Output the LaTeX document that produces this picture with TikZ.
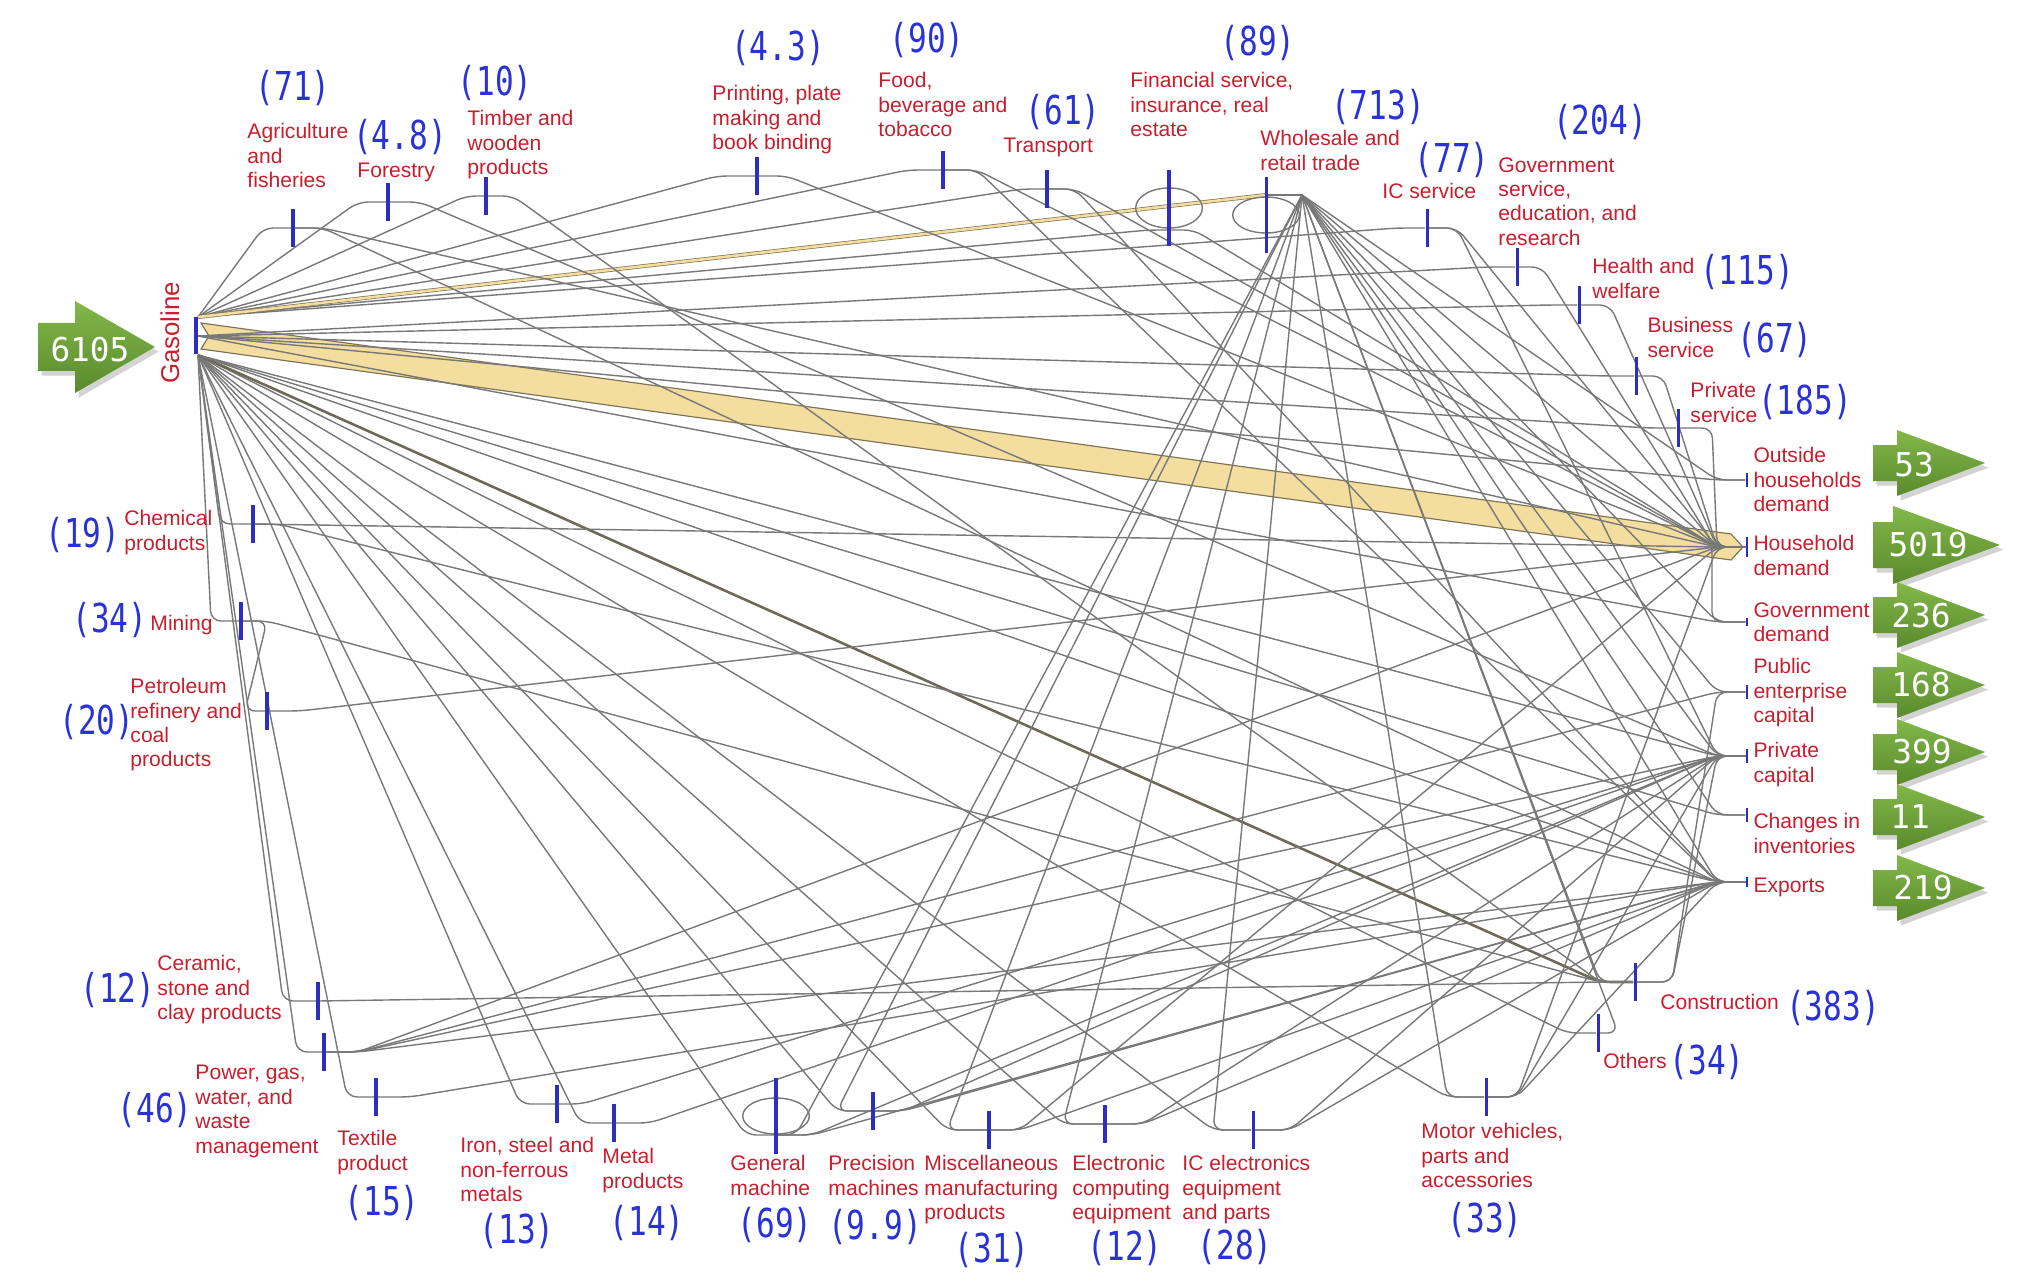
\documentclass[tikz,border=0pt]{standalone}
\usepackage{fontspec}
\setmainfont{Liberation Sans}
\newfontfamily\valfont[FakeStretch=0.78]{DejaVu Sans Mono}
\newfontfamily\arrfont{DejaVu Sans Mono}
\usetikzlibrary{calc, backgrounds, shadows}

\definecolor{labelred}{RGB}{200,30,45}
\definecolor{valblue}{RGB}{40,50,215}
\definecolor{tickblue}{RGB}{45,45,190}
\definecolor{flowgray}{RGB}{120,120,120}
\definecolor{heavygray}{RGB}{110,105,85}
\definecolor{bandfill}{RGB}{243,222,160}
\definecolor{bandedge}{RGB}{125,115,85}
\definecolor{greentop}{RGB}{130,184,74}
\definecolor{greenbot}{RGB}{90,138,44}

\begin{document}
\begin{tikzpicture}[x=0.015cm, y=-0.015cm,
    tick/.style={fill=tickblue, inner sep=0pt, minimum width=1.3pt, minimum height=0.57cm},
    longtick/.style={tick, minimum height=1.15cm},
    dtick/.style={tick, minimum width=1pt, minimum height=0.2cm},
    lbl/.style={text=labelred, font=\fontsize{9}{10.4}\selectfont, align=left, inner sep=0pt, anchor=north west},
    val/.style={text=valblue, font=\valfont\fontsize{17}{19}\selectfont, inner sep=0pt},
    arrtxt/.style={text=white, font=\arrfont\fontsize{14}{16}\selectfont, inner sep=0pt},
    greenarrow/.style={top color=greentop, bottom color=greenbot, drop shadow={shadow xshift=1.5pt, shadow yshift=-2pt, opacity=0.35}},
    flowline/.style={draw=flowgray, line width=0.6pt, rounded corners=0.15cm},
    heavyline/.style={flowline, draw=heavygray, line width=1.1pt},
    tanline/.style={draw=bandedge, double=bandfill, double distance=1.1pt, line width=0.3pt},
    band/.style={fill=bandfill, draw=bandedge, line width=0.5pt}]
        \useasboundingbox (0,0) rectangle (2042,1277);

        % Sector ticks
        \node[tick, minimum height=0.555cm] (gas) at (196,336) {};
        \node[tick] (agr) at (293,228) {};
        \node[tick] (fore) at (388,202) {};
        \node[tick] (timb) at (486,196) {};
        \node[tick] (prin) at (757,176) {};
        \node[tick] (food) at (943,170) {};
        \node[tick] (tran) at (1047,189) {};
        \node[longtick] (fin) at (1169,208) {};
        \node[longtick] (whol) at (1266,215) {};
        \node[tick] (ics) at (1427,228) {};
        \node[tick] (gov) at (1517,267) {};
        \node[tick] (hea) at (1579,305) {};
        \node[tick] (bus) at (1636,376) {};
        \node[tick] (prs) at (1678,428) {};
        \node[tick] (chem) at (253,524) {};
        \node[tick] (mine) at (241,621) {};
        \node[tick] (petr) at (267,711) {};
        \node[tick] (cer) at (318,1001) {};
        \node[tick] (pow) at (324,1052) {};
        \node[tick] (tex) at (376,1097) {};
        \node[tick] (iron) at (557,1104) {};
        \node[tick] (met) at (614,1123) {};
        \node[longtick] (gen) at (776,1116) {};
        \node[tick] (prec) at (873,1111) {};
        \node[tick] (misc) at (989,1130) {};
        \node[tick] (elec) at (1105,1124) {};
        \node[tick] (ice) at (1253,1130) {};
        \node[tick] (mot) at (1486,1097) {};
        \node[tick] (oth) at (1598,1033) {};
        \node[tick] (con) at (1635,982) {};

        % Demand ticks
        \node[dtick] (od) at (1747,480) {};
        \node[dtick, minimum height=0.3cm] (hd) at (1747,547) {};
        \node[dtick, minimum height=0.12cm] (gd) at (1747,622) {};
        \node[dtick] (pe) at (1747,692) {};
        \node[dtick] (pc) at (1747,756) {};
        \node[dtick] (chg) at (1747,815) {};
        \node[dtick, minimum height=0.15cm] (exp) at (1747,882) {};

        % Labels
        \node[lbl, anchor=center, rotate=90, font=\fontsize{11}{13}\selectfont] (gaslbl) at (170,333) {Gasoline};
        \node[lbl] (agrlbl) at (247,123) {Agriculture\\and\\fisheries};
        \node[lbl] (forelbl) at (357,163) {Forestry};
        \node[lbl] (timblbl) at (467,110) {Timber and\\wooden\\products};
        \node[lbl] (prinlbl) at (712,85) {Printing, plate\\making and\\book binding};
        \node[lbl] (foodlbl) at (878,72) {Food,\\beverage and\\tobacco};
        \node[lbl] (tranlbl) at (1003,138) {Transport};
        \node[lbl] (finlbl) at (1130,72) {Financial service,\\insurance, real\\estate};
        \node[lbl] (whollbl) at (1260,130) {Wholesale and\\retail trade};
        \node[lbl] (icslbl) at (1382,183) {IC service};
        \node[lbl] (govlbl) at (1498,157) {Government\\service,\\education, and\\research};
        \node[lbl] (healbl) at (1592,258) {Health and\\welfare};
        \node[lbl] (buslbl) at (1647,317) {Business\\service};
        \node[lbl] (prslbl) at (1690,382) {Private\\service};
        \node[lbl] (chemlbl) at (124,510) {Chemical\\products};
        \node[lbl] (minelbl) at (150,615) {Mining};
        \node[lbl] (petrlbl) at (130,678) {Petroleum\\refinery and\\coal\\products};
        \node[lbl] (cerlbl) at (157,955) {Ceramic,\\stone and\\clay products};
        \node[lbl] (powlbl) at (195,1065) {Power, gas,\\water, and\\waste\\management};
        \node[lbl] (texlbl) at (337,1130) {Textile\\product};
        \node[lbl] (ironlbl) at (460,1137) {Iron, steel and\\non-ferrous\\metals};
        \node[lbl] (metlbl) at (602,1148) {Metal\\products};
        \node[lbl] (genlbl) at (730,1155) {General\\machine};
        \node[lbl] (preclbl) at (828,1155) {Precision\\machines};
        \node[lbl] (misclbl) at (924,1155) {Miscellaneous\\manufacturing\\products};
        \node[lbl] (eleclbl) at (1072,1155) {Electronic\\computing\\equipment};
        \node[lbl] (icelbl) at (1182,1155) {IC electronics\\equipment\\and parts};
        \node[lbl] (motlbl) at (1421,1123) {Motor vehicles,\\parts and\\accessories};
        \node[lbl] (othlbl) at (1603,1053) {Others};
        \node[lbl] (conlbl) at (1660,994) {Construction};
        \node[lbl] (odlbl) at (1753,447) {Outside\\households\\demand};
        \node[lbl] (hdlbl) at (1753,535) {Household\\demand};
        \node[lbl] (gdlbl) at (1753,602) {Government\\demand};
        \node[lbl] (pelbl) at (1753,658) {Public\\enterprise\\capital};
        \node[lbl] (pclbl) at (1753,742) {Private\\capital};
        \node[lbl] (chglbl) at (1753,813) {Changes in\\inventories};
        \node[lbl] (explbl) at (1753,878) {Exports};

        % Values
        \node[val] (agrval) at (293,88) {(71)};
        \node[val] (foreval) at (400,137) {(4.8)};
        \node[val] (timbval) at (495,83) {(10)};
        \node[val] (prinval) at (778,48) {(4.3)};
        \node[val] (foodval) at (927,40) {(90)};
        \node[val] (tranval) at (1063,112) {(61)};
        \node[val] (finval) at (1258,43) {(89)};
        \node[val] (wholval) at (1378,107) {(713)};
        \node[val] (icsval) at (1452,160) {(77)};
        \node[val] (govval) at (1600,122) {(204)};
        \node[val] (heaval) at (1747,272) {(115)};
        \node[val] (busval) at (1775,340) {(67)};
        \node[val] (prsval) at (1805,402) {(185)};
        \node[val] (chemval) at (83,535) {(19)};
        \node[val] (mineval) at (110,620) {(34)};
        \node[val] (petrval) at (97,722) {(20)};
        \node[val] (cerval) at (118,990) {(12)};
        \node[val] (powval) at (155,1110) {(46)};
        \node[val] (texval) at (382,1203) {(15)};
        \node[val] (ironval) at (517,1231) {(13)};
        \node[val] (metval) at (647,1223) {(14)};
        \node[val] (genval) at (775,1225) {(69)};
        \node[val] (precval) at (875,1227) {(9.9)};
        \node[val] (miscval) at (992,1250) {(31)};
        \node[val] (elecval) at (1125,1248) {(12)};
        \node[val] (iceval) at (1235,1247) {(28)};
        \node[val] (motval) at (1485,1220) {(33)};
        \node[val] (othval) at (1707,1062) {(34)};
        \node[val] (conval) at (1833,1008) {(383)};

        \begin{scope}[on background layer]
        % Gasoline to household band
        \filldraw[band] ($(gas.east)+(3,-13)$) -- ($(hd)+(-16,-13)$) -- ($(hd)+(-4,0)$) -- ($(hd)+(-16,13)$) -- ($(gas.east)+(3,13)$) -- ($(gas.east)+(11,0)$) -- cycle;

        % Gasoline to sectors
        \draw[flowline] (gas.north east) -- ($(agr)+(-30,0)$) -- (agr);
        \draw[flowline] (gas.north east) -- ($(fore)+(-30,0)$) -- (fore);
        \draw[flowline] (gas.north east) -- ($(timb)+(-20,0)$) -- (timb);
        \draw[flowline] (gas.north east) -- ($(prin)+(-40,0)$) -- (prin);
        \draw[flowline] (gas.north east) -- ($(food)+(-35,0)$) -- (food);
        \draw[flowline] (gas.north east) -- ($(tran)+(-25,0)$) -- (tran);
        \draw[flowline] (gas.north east) -- ($(fin)+(-20,22)$) -- ($(fin)+(0,22)$);
        \draw[flowline] (gas.north east) -- ($(ics)+(-30,0)$) -- (ics);
        \draw[flowline] (gas.east) -- ($(gov)+(-30,0)$) -- (gov);
        \draw[flowline] (gas.east) -- ($(hea)+(-30,0)$) -- (hea);
        \draw[flowline] (gas.east) -- ($(bus)+(-30,0)$) -- (bus);
        \draw[flowline] (gas.east) -- ($(prs)+(-30,0)$) -- (prs);
        \draw[flowline] (gas.south east) -- ($(chem)+(-33,0)$) -- (chem);
        \draw[flowline] (gas.south east) -- ($(mine)+(-30,0)$) -- (mine);
        \draw[flowline] (gas.south east) -- ($(cer)+(-35,0)$) -- (cer);
        \draw[flowline] (gas.south east) -- ($(pow)+(-27,0)$) -- (pow);
        \draw[flowline] (gas.south east) -- ($(tex)+(-29,0)$) -- (tex);
        \draw[flowline] (gas.south east) -- ($(iron)+(-37,0)$) -- (iron);
        \draw[flowline] (gas.south east) -- ($(met)+(-34,0)$) -- (met);
        \draw[flowline] (gas.south east) -- ($(gen)+(-30,19)$) -- ($(gen)+(0,19)$);
        \draw[flowline] (gas.south east) -- ($(prec)+(-36,0)$) -- (prec);
        \draw[flowline] (gas.south east) -- ($(misc)+(-42,0)$) -- (misc);
        \draw[flowline] (gas.south east) -- ($(elec)+(-42,0)$) -- (elec);
        \draw[flowline] (gas.south east) -- ($(ice)+(-40,0)$) -- (ice);
        \draw[flowline] (gas.south east) -- ($(mot)+(-39,0)$) -- (mot);
        \draw[flowline] (gas.south east) -- ($(oth)+(-31,0)$) -- (oth);
        \draw[heavyline] (gas.south east) -- ($(con)+(-35,0)$) -- (con);
        \draw[tanline] (gas.north east) -- ($(whol)+(0,-20)$);

        % Gasoline to final demand
        \draw[flowline] (gas.east) -- ($(od)+(-30,0)$) -- (od);
        \draw[flowline] (gas.east) -- ($(gd)+(-30,0)$) -- (gd);
        \draw[flowline] (gas.south east) -- ($(pc)+(-30,0)$) -- (pc);
        \draw[flowline] (gas.south east) -- ($(chg)+(-30,0)$) -- (chg);
        \draw[flowline] (gas.south east) -- ($(exp)+(-30,0)$) -- (exp);

        % Wholesale fan
        \coordinate (whub) at ($(whol)+(36,-20)$);
        \draw[flowline] ($(whol)+(0,-20)$) -- (whub);
        \draw[flowline] (whub) -- ($(od)+(-30,0)$) -- (od);
        \draw[flowline] (whub) -- ($(hd)+(-30,0)$) -- (hd);
        \draw[flowline] (whub) -- ($(gd)+(-30,0)$) -- (gd);
        \draw[flowline] (whub) -- ($(pe)+(-30,0)$) -- (pe);
        \draw[flowline] (whub) -- ($(pc)+(-30,0)$) -- (pc);
        \draw[flowline] (whub) -- ($(chg)+(-30,0)$) -- (chg);
        \draw[flowline] (whub) -- ($(exp)+(-30,0)$) -- (exp);
        \draw[flowline] (whub) -- ($(con)+(-35,0)$) -- (con);
        \draw[flowline] (whub) -- ($(oth)+(20,0)$) -- (oth);
        \draw[flowline] (whub) -- ($(mot)+(-39,0)$) -- (mot);
        \draw[flowline] (whub) -- ($(ice)+(-40,0)$) -- (ice);
        \draw[flowline] (whub) -- ($(elec)+(-42,0)$) -- (elec);
        \draw[flowline] (whub) -- ($(misc)+(-42,0)$) -- (misc);
        \draw[flowline] (whub) -- ($(prec)+(-36,0)$) -- (prec);
        \draw[flowline] (whub) -- ($(gen)+(20,19)$) -- ($(gen)+(0,19)$);

        % Upper sectors to final demand
        \draw[flowline] (agr) -- ($(agr)+(30,0)$) -- ($(hd)+(-30,0)$) -- (hd);
        \draw[flowline] (agr) -- ($(agr)+(30,0)$) -- ($(exp)+(-30,0)$) -- (exp);
        \draw[flowline] (fore) -- ($(fore)+(32,0)$) -- ($(pc)+(-30,0)$) -- (pc);
        \draw[flowline] (timb) -- ($(timb)+(27,0)$) -- ($(con)+(-35,0)$) -- (con);
        \draw[flowline] (prin) -- ($(prin)+(30,0)$) -- ($(hd)+(-30,0)$) -- (hd);
        \draw[flowline] (food) -- ($(food)+(34,0)$) -- ($(hd)+(-30,0)$) -- (hd);
        \draw[flowline] (food) -- ($(food)+(34,0)$) -- ($(exp)+(-30,0)$) -- (exp);
        \draw[flowline] (tran) -- ($(tran)+(28,0)$) -- ($(hd)+(-30,0)$) -- (hd);
        \draw[flowline] (tran) -- ($(tran)+(28,0)$) -- ($(exp)+(-30,0)$) -- (exp);
        \draw[flowline] ($(fin)+(0,22)$) -- ($(fin)+(25,22)$) -- ($(hd)+(-30,0)$) -- (hd);
        \draw[flowline] (ics) -- ($(ics)+(30,0)$) -- ($(hd)+(-30,0)$) -- (hd);
        \draw[flowline] (ics) -- ($(ics)+(30,0)$) -- ($(pc)+(-30,0)$) -- (pc);
        \draw[flowline] (gov) -- ($(gov)+(25,0)$) -- ($(gd)+(-35,-80)$) -- ($(gd)+(-35,0)$) -- (gd);
        \draw[flowline] (hea) -- ($(hea)+(31,0)$) -- ($(hd)+(-30,0)$) -- (hd);
        \draw[flowline] (bus) -- ($(bus)+(27,0)$) -- ($(hd)+(-30,0)$) -- (hd);
        \draw[flowline] (prs) -- ($(prs)+(34,0)$) -- ($(hd)+(-30,0)$) -- (hd);

        % Left sectors
        \draw[flowline] (chem) -- ($(hd)+(-30,0)$) -- (hd);
        \draw[flowline] (chem) -- ($(chem)+(25,0)$) -- ($(exp)+(-30,0)$) -- (exp);
        \draw[flowline] (mine) -- ($(mine)+(26,0)$) -- ($(petr)+(-22,0)$) -- (petr);
        \draw[flowline] (mine) -- ($(mine)+(26,0)$) -- ($(con)+(-35,0)$) -- (con);
        \draw[flowline] (petr) -- ($(petr)+(33,0)$) -- ($(hd)+(-30,0)$) -- (hd);

        % Lower sectors
        \draw[flowline] (cer) -- ($(con)+(-35,0)$) -- (con);
        \draw[flowline] (pow) -- ($(pow)+(34,0)$) -- ($(pe)+(-30,0)$) -- (pe);
        \draw[flowline] (pow) -- ($(pow)+(34,0)$) -- ($(pc)+(-30,0)$) -- (pc);
        \draw[flowline] (pow) -- ($(pow)+(34,0)$) -- ($(exp)+(-30,0)$) -- (exp);
        \draw[flowline] (pow) -- ($(pow)+(34,0)$) -- ($(hd)+(-30,0)$) -- (hd);
        \draw[flowline] (tex) -- ($(tex)+(34,0)$) -- ($(exp)+(-30,0)$) -- (exp);
        \draw[flowline] (iron) -- ($(iron)+(25,0)$) -- ($(pc)+(-30,0)$) -- (pc);
        \draw[flowline] (met) -- ($(met)+(36,0)$) -- ($(pc)+(-30,0)$) -- (pc);
        \draw[flowline] ($(gen)+(0,19)$) -- ($(gen)+(36,19)$) -- ($(pc)+(-30,0)$) -- (pc);
        \draw[flowline] ($(gen)+(0,19)$) -- ($(gen)+(36,19)$) -- ($(exp)+(-30,0)$) -- (exp);
        \draw[flowline] (prec) -- ($(prec)+(30,0)$) -- ($(pc)+(-30,0)$) -- (pc);
        \draw[flowline] (prec) -- ($(prec)+(30,0)$) -- ($(exp)+(-30,0)$) -- (exp);
        \draw[flowline] (misc) -- ($(misc)+(31,0)$) -- ($(exp)+(-30,0)$) -- (exp);
        \draw[flowline] (misc) -- ($(misc)+(31,0)$) -- ($(hd)+(-30,0)$) -- (hd);
        \draw[flowline] (elec) -- ($(elec)+(38,0)$) -- ($(pc)+(-30,0)$) -- (pc);
        \draw[flowline] (elec) -- ($(elec)+(38,0)$) -- ($(exp)+(-30,0)$) -- (exp);
        \draw[flowline] (ice) -- ($(ice)+(37,0)$) -- ($(exp)+(-30,0)$) -- (exp);
        \draw[flowline] (ice) -- ($(ice)+(37,0)$) -- ($(pc)+(-30,0)$) -- (pc);
        \draw[flowline] (mot) -- ($(mot)+(31,0)$) -- ($(pc)+(-30,0)$) -- (pc);
        \draw[flowline] (mot) -- ($(mot)+(31,0)$) -- ($(exp)+(-30,0)$) -- (exp);
        \draw[flowline] (mot) -- ($(mot)+(31,0)$) -- ($(hd)+(-30,0)$) -- (hd);
        \draw[flowline] (con) -- ($(con)+(37,0)$) -- ($(pc)+(-30,0)$) -- (pc);
        \draw[flowline] (con) -- ($(con)+(37,0)$) -- ($(pe)+(-30,0)$) -- (pe);

        % Self loops
        \draw[flowline] (fin) ellipse [x radius=0.5cm, y radius=0.3cm];
        \draw[flowline] (whol) ellipse [x radius=0.5cm, y radius=0.27cm];
        \draw[flowline] (gen) ellipse [x radius=0.5cm, y radius=0.27cm];
        \end{scope}

        % Green arrows
        \path[greenarrow, shift={(38,347)}] (0,-24) -- (37,-24) -- (37,-46) -- (117,0) -- (37,46) -- (37,24) -- (0,24) -- cycle;
        \path[greenarrow, shift={(1873,463)}] (0,-18) -- (24,-18) -- (24,-33) -- (112,0) -- (24,33) -- (24,18) -- (0,18) -- cycle;
        \path[greenarrow, shift={(1873,545)}] (0,-23) -- (20,-23) -- (20,-39) -- (127,0) -- (20,39) -- (20,23) -- (0,23) -- cycle;
        \path[greenarrow, shift={(1873,615)}] (0,-18) -- (24,-18) -- (24,-33) -- (112,0) -- (24,33) -- (24,18) -- (0,18) -- cycle;
        \path[greenarrow, shift={(1873,685)}] (0,-18) -- (24,-18) -- (24,-33) -- (112,0) -- (24,33) -- (24,18) -- (0,18) -- cycle;
        \path[greenarrow, shift={(1873,752)}] (0,-18) -- (24,-18) -- (24,-33) -- (112,0) -- (24,33) -- (24,18) -- (0,18) -- cycle;
        \path[greenarrow, shift={(1873,817)}] (0,-18) -- (24,-18) -- (24,-33) -- (112,0) -- (24,33) -- (24,18) -- (0,18) -- cycle;
        \path[greenarrow, shift={(1873,888)}] (0,-18) -- (24,-18) -- (24,-33) -- (112,0) -- (24,33) -- (24,18) -- (0,18) -- cycle;

        \node[arrtxt] (a6105) at (90,350) {6105};
        \node[arrtxt] (a53) at (1914,465) {53};
        \node[arrtxt] (a5019) at (1928,545) {5019};
        \node[arrtxt] (a236) at (1921,616) {236};
        \node[arrtxt] (a168) at (1921,685) {168};
        \node[arrtxt] (a399) at (1922,752) {399};
        \node[arrtxt] (a11) at (1910,817) {11};
        \node[arrtxt] (a219) at (1923,888) {219};
    \end{tikzpicture}
\end{document}
